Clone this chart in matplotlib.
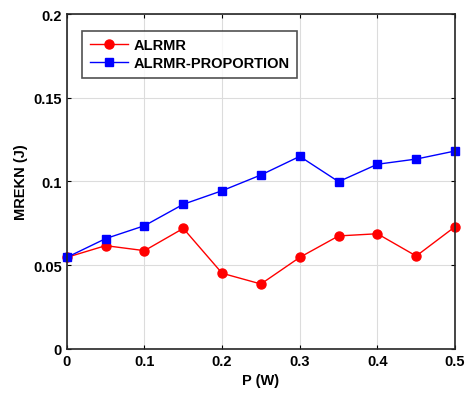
import matplotlib
matplotlib.use('Agg')
import matplotlib.pyplot as plt

p = [0, 0.05, 0.1, 0.15, 0.2, 0.25, 0.3, 0.35, 0.4, 0.45, 0.5]
alrmr = [0.0547, 0.0617, 0.0587, 0.0720, 0.0452, 0.0388, 0.0547, 0.0675, 0.0688, 0.0555, 0.0730]
alrmr_prop = [0.0547, 0.0659, 0.0736, 0.0864, 0.0945, 0.1039, 0.1150, 0.0999, 0.1103, 0.1134, 0.1182]
xticks = [0, 0.1, 0.2, 0.3, 0.4, 0.5]
xticklabels = ['0', '0.1', '0.2', '0.3', '0.4', '0.5']
yticks = [0, 0.05, 0.1, 0.15, 0.2]
yticklabels = ['0', '0.05', '0.1', '0.15', '0.2']

plt.rcParams['font.family'] = ['Liberation Sans', 'DejaVu Sans']
plt.rcParams['font.weight'] = 'bold'

fig = plt.figure(figsize=(4.74, 4.06), dpi=100)
ax = fig.add_axes([0.141, 0.138, 0.819, 0.825])

ax.plot(p, alrmr, '-o', color='#ff0000', markersize=6.5, linewidth=1, label='ALRMR', clip_on=False)
ax.plot(p, alrmr_prop, '-s', color='#0000ff', markersize=5.5, linewidth=1, label='ALRMR-PROPORTION', clip_on=False)

ax.set_xlim(0, 0.5)
ax.set_ylim(0, 0.2)
ax.set_xticks(xticks)
ax.set_xticklabels(xticklabels)
ax.set_yticks(yticks)
ax.set_yticklabels(yticklabels)
ax.tick_params(direction='in', top=True, right=True, labelsize=10.5, length=3, width=0.8)
ax.grid(True, color='#dcdcdc', linewidth=0.8)
ax.set_axisbelow(True)
for s in ax.spines.values():
    s.set_linewidth(1.2)
    s.set_color('#262626')

ax.set_xlabel('P (W)', fontsize=10.5, fontweight='bold')
ax.set_ylabel('MREKN (J)', fontsize=10.5, fontweight='bold')

leg = ax.legend(loc='upper left', bbox_to_anchor=(0.04, 0.95), borderaxespad=0, fontsize=10.5,
                frameon=True, fancybox=False, edgecolor='#262626', handlelength=2.6,
                handletextpad=0.4, borderpad=0.5, labelspacing=0.3)
leg.get_frame().set_linewidth(1.2)

fig.savefig('out.png', dpi=100)
